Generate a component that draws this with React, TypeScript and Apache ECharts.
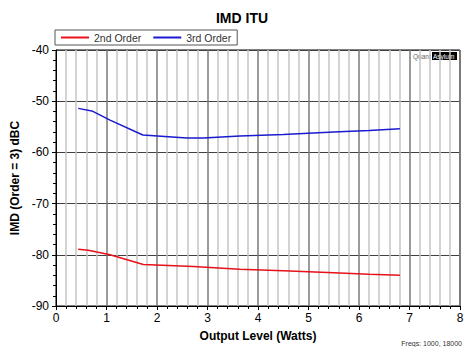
import React, { useEffect, useRef } from "react";
import * as echarts from "echarts";

const title = "IMD ITU";
const xName = "Output Level (Watts)";
const yName = "IMD (Order = 3) dBC";
const seriesNames = ["2nd Order", "3rd Order"];
const watts2nd = [0.44, 0.64, 1.07, 1.73, 2.72, 3.64, 4.5, 5.5, 6.2, 6.81];
const dbc2nd = [-78.9, -79.1, -80.0, -81.9, -82.3, -82.8, -83.1, -83.5, -83.8, -84.0];
const watts3rd = [0.44, 0.71, 1.07, 1.72, 2.59, 2.92, 3.64, 4.5, 5.5, 6.2, 6.81];
const dbc3rd = [-51.4, -51.9, -53.7, -56.6, -57.2, -57.2, -56.8, -56.5, -56.0, -55.7, -55.4];
const footnote = "Freqs: 1000, 18000";

export default function App() {
  const ref = useRef<HTMLDivElement>(null);
  useEffect(() => {
    if (!ref.current) return;
    const chart = echarts.init(ref.current, null, { renderer: "svg" });
    const font = "Liberation Sans, Arial, sans-serif";
    chart.setOption({
      animation: false,
      backgroundColor: "#ffffff",
      textStyle: { fontFamily: font },
      title: {
        text: title,
        left: 237,
        top: 6,
        textAlign: "center",
        textStyle: { fontSize: 14, fontWeight: "bold", color: "#000", fontFamily: font },
      },
      legend: {
        left: 55,
        top: 30,
        orient: "horizontal",
        borderColor: "#555",
        borderWidth: 1,
        padding: [2, 6, 2, 6],
        itemGap: 12,
        itemWidth: 28,
        itemHeight: 2,
        icon: "rect",
        textStyle: { fontSize: 10.5, color: "#333", fontFamily: font },
        data: seriesNames,
      },
      grid: {
        left: 56,
        right: 14,
        top: 50,
        bottom: 49,
        show: true,
        borderColor: "#000",
        borderWidth: 1,
      },
      xAxis: {
        type: "value",
        min: 0,
        max: 8,
        interval: 1,
        name: xName,
        nameLocation: "middle",
        nameGap: 24,
        nameTextStyle: { fontSize: 12, fontWeight: "bold", color: "#000", fontFamily: font },
        axisLine: { show: true, lineStyle: { color: "#000" } },
        axisTick: { show: true, length: 4, lineStyle: { color: "#000" } },
        minorTick: { show: true, splitNumber: 5, length: 3, lineStyle: { color: "#000" } },
        axisLabel: { fontSize: 12, color: "#000", margin: 6, fontFamily: font },
        splitLine: { show: true, lineStyle: { color: "#7a7a7a", width: 1.5 } },
        minorSplitLine: { show: true, lineStyle: { color: "#c4c4c4", width: 1.5 } },
      },
      yAxis: {
        type: "value",
        min: -90,
        max: -40,
        interval: 10,
        name: yName,
        nameLocation: "middle",
        nameGap: 33,
        nameRotate: 90,
        nameTextStyle: { fontSize: 12, fontWeight: "bold", color: "#000", fontFamily: font },
        axisLine: { show: true, lineStyle: { color: "#000" } },
        axisTick: { show: true, length: 4, lineStyle: { color: "#000" } },
        minorTick: { show: true, splitNumber: 5, length: 3, lineStyle: { color: "#000" } },
        axisLabel: { fontSize: 12, color: "#000", margin: 7, fontFamily: font },
        splitLine: { show: true, lineStyle: { color: "#404040", width: 1 } },
      },
      series: [
        {
          name: seriesNames[0],
          type: "line",
          data: watts2nd.map((x, i) => [x, dbc2nd[i]]),
          showSymbol: false,
          color: "#e8111a",
          lineStyle: { width: 1.5, color: "#e8111a" },
        },
        {
          name: seriesNames[1],
          type: "line",
          data: watts3rd.map((x, i) => [x, dbc3rd[i]]),
          showSymbol: false,
          color: "#1a1ad0",
          lineStyle: { width: 1.5, color: "#1a1ad0" },
        },
      ],
      graphic: [
        {
          type: "text",
          x: 462,
          y: 343,
          style: {
            text: footnote,
            fontSize: 7,
            fill: "#333",
            fontFamily: font,
            textAlign: "right",
            textVerticalAlign: "middle",
          },
        },
        {
          type: "group",
          x: 412,
          y: 52,
          children: [
            { type: "rect", shape: { x: 0, y: 0, width: 20, height: 8 }, style: { fill: "#fff" } },
            { type: "rect", shape: { x: 20, y: 0, width: 25, height: 8 }, style: { fill: "#000" } },
            {
              type: "text",
              x: 1,
              y: 4,
              style: {
                text: "Quant",
                fontSize: 6.5,
                fill: "#666",
                fontFamily: font,
                textVerticalAlign: "middle",
              },
            },
            {
              type: "text",
              x: 21,
              y: 4,
              style: {
                text: "Asylum",
                fontSize: 6.5,
                fill: "#fff",
                fontFamily: font,
                textVerticalAlign: "middle",
              },
            },
          ],
        },
      ],
    });
    return () => chart.dispose();
  }, []);
  return <div ref={ref} style={{ width: 474, height: 355, margin: -8 }} />;
}
